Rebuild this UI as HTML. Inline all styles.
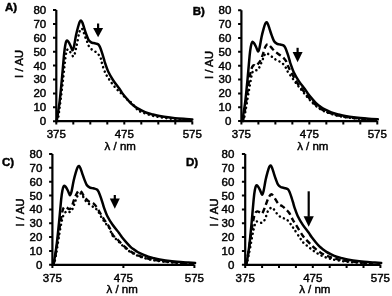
<!DOCTYPE html><html><head><meta charset="utf-8"><style>html,body{margin:0;padding:0;background:#fff;}svg{display:block;}text{font-family:'Liberation Sans', Arial, sans-serif;fill:#000;stroke:#000;stroke-width:0.45px;}</style></head><body>
<svg width="392" height="296" viewBox="0 0 392 296">
<rect width="392" height="296" fill="#fff"/>
<g><path d="M57.80 121.00 C58.05 119.17 58.77 114.00 59.30 110.00 C59.83 106.00 60.42 101.67 61.00 97.00 C61.58 92.33 62.22 87.17 62.80 82.00 C63.38 76.83 64.00 70.50 64.50 66.00 C65.00 61.50 65.35 57.70 65.80 55.00 C66.25 52.30 66.67 50.65 67.20 49.80 C67.73 48.95 68.37 49.32 69.00 49.90 C69.63 50.48 70.28 52.20 71.00 53.30 C71.72 54.40 72.68 56.38 73.30 56.50 C73.92 56.62 74.25 55.33 74.70 54.00 C75.15 52.67 75.55 50.50 76.00 48.50 C76.45 46.50 76.92 44.42 77.40 42.00 C77.88 39.58 78.42 36.08 78.90 34.00 C79.38 31.92 79.85 30.40 80.30 29.50 C80.75 28.60 81.15 28.43 81.60 28.60 C82.05 28.77 82.37 29.03 83.00 30.50 C83.63 31.97 84.70 35.52 85.40 37.40 C86.10 39.28 86.68 40.45 87.20 41.80 C87.72 43.15 87.83 44.30 88.50 45.50 C89.17 46.70 90.18 48.07 91.20 49.00 C92.22 49.93 93.58 50.38 94.60 51.10 C95.62 51.82 96.48 52.52 97.30 53.30 C98.12 54.08 98.88 54.85 99.50 55.80 C100.12 56.75 100.53 57.55 101.00 59.00 C101.47 60.45 101.62 62.27 102.30 64.50 C102.98 66.73 103.95 69.90 105.10 72.40 C106.25 74.90 107.50 76.97 109.20 79.50 C110.90 82.03 113.27 85.23 115.30 87.60 C117.33 89.97 119.55 91.83 121.40 93.70 C123.25 95.57 124.72 97.28 126.40 98.80 C128.08 100.32 129.58 100.90 131.50 102.80 C133.42 104.70 136.15 108.62 137.90 110.18 C139.65 111.74 139.94 111.36 141.98 112.18 C144.02 112.99 147.42 114.27 150.14 115.07 C152.86 115.86 155.58 116.44 158.30 116.96 C161.02 117.47 163.74 117.79 166.46 118.15 C169.18 118.51 171.90 118.85 174.62 119.11 C177.34 119.37 180.06 119.52 182.78 119.71 C185.50 119.89 189.58 120.15 190.94 120.24" fill="none" stroke="#000" stroke-width="2.5" stroke-dasharray="0.1 4.4" stroke-linecap="round"/><path d="M56.50 121.20 C56.61 120.74 56.86 119.90 57.12 118.42 C57.38 116.94 57.64 115.22 58.07 112.30 C58.50 109.39 59.04 106.65 59.70 100.91 C60.36 95.16 61.30 85.48 62.01 77.83 C62.73 70.19 63.45 60.43 63.98 55.04 C64.52 49.64 64.78 47.81 65.21 45.44 C65.64 43.08 66.07 41.51 66.57 40.86 C67.07 40.21 67.54 40.74 68.20 41.55 C68.86 42.36 69.80 44.26 70.51 45.72 C71.23 47.18 71.91 50.19 72.48 50.31 C73.06 50.43 73.39 48.92 73.98 46.42 C74.57 43.92 75.35 38.50 76.02 35.30 C76.69 32.10 77.37 29.48 77.99 27.24 C78.62 24.99 79.23 22.93 79.76 21.81 C80.29 20.70 80.73 20.40 81.19 20.56 C81.64 20.73 81.98 21.54 82.48 22.79 C82.98 24.04 83.56 26.17 84.18 28.07 C84.80 29.97 85.49 32.22 86.22 34.19 C86.95 36.16 87.70 38.52 88.53 39.89 C89.36 41.25 90.32 41.85 91.18 42.39 C92.05 42.92 92.88 42.87 93.70 43.08 C94.52 43.29 95.26 43.36 96.08 43.64 C96.90 43.92 97.92 44.10 98.60 44.75 C99.28 45.40 99.57 46.14 100.16 47.53 C100.75 48.92 101.50 51.14 102.13 53.09 C102.77 55.04 103.47 57.51 103.97 59.21 C104.47 60.90 104.42 61.20 105.12 63.24 C105.83 65.28 106.82 68.57 108.18 71.44 C109.54 74.31 111.44 77.62 113.28 80.47 C115.13 83.32 117.77 86.43 119.27 88.53 C120.76 90.64 121.04 91.45 122.26 93.12 C123.48 94.79 125.25 96.92 126.61 98.54 C127.97 100.16 129.32 101.74 130.42 102.85 C131.52 103.96 132.07 104.33 133.21 105.22 C134.34 106.10 135.76 107.23 137.22 108.13 C138.68 109.04 140.28 109.83 141.98 110.64 C143.68 111.45 145.58 112.35 147.42 113.00 C149.26 113.65 151.18 114.06 153.00 114.53 C154.81 114.99 156.46 115.41 158.30 115.78 C160.14 116.15 161.22 116.36 164.01 116.75 C166.80 117.15 171.37 117.77 175.03 118.14 C178.69 118.51 183.10 118.77 185.98 118.98 C188.85 119.18 191.25 119.32 192.30 119.39" fill="none" stroke="#000" stroke-width="2.5" stroke-linejoin="round" stroke-linecap="round"/><path d="M56.30 10.00 V121.20 H192.30" fill="none" stroke="#000" stroke-width="2.2"/><path d="M53.00 121.20 H56.30 M53.00 107.30 H56.30 M53.00 93.40 H56.30 M53.00 79.50 H56.30 M53.00 65.60 H56.30 M53.00 51.70 H56.30 M53.00 37.80 H56.30 M53.00 23.90 H56.30 M53.00 10.00 H56.30 M56.30 121.20 V124.50 M73.30 121.20 V124.50 M90.30 121.20 V124.50 M107.30 121.20 V124.50 M124.30 121.20 V124.50 M141.30 121.20 V124.50 M158.30 121.20 V124.50 M175.30 121.20 V124.50 M192.30 121.20 V124.50" fill="none" stroke="#000" stroke-width="2"/><text x="46.20" y="125.15" font-size="11.5" text-anchor="end">0</text><text x="46.20" y="111.25" font-size="11.5" text-anchor="end">10</text><text x="46.20" y="97.35" font-size="11.5" text-anchor="end">20</text><text x="46.20" y="83.45" font-size="11.5" text-anchor="end">30</text><text x="46.20" y="69.55" font-size="11.5" text-anchor="end">40</text><text x="46.20" y="55.65" font-size="11.5" text-anchor="end">50</text><text x="46.20" y="41.75" font-size="11.5" text-anchor="end">60</text><text x="46.20" y="27.85" font-size="11.5" text-anchor="end">70</text><text x="46.20" y="13.95" font-size="11.5" text-anchor="end">80</text><text x="56.30" y="138.10" font-size="11.5" text-anchor="middle">375</text><text x="124.30" y="138.10" font-size="11.5" text-anchor="middle">475</text><text x="192.30" y="138.10" font-size="11.5" text-anchor="middle">575</text><text transform="translate(23.20 63.90) rotate(-90)" font-size="11.5" text-anchor="middle">I / AU</text><text x="120.25" y="149.50" font-size="11.5" text-anchor="middle">λ / nm</text><text x="5.00" y="10.70" font-size="11.5" font-weight="bold">A)</text><path d="M98.10 23.50 V28.40" stroke="#000" stroke-width="2.2"/><path d="M93.10 27.90 L103.10 27.90 L98.10 37.30 Z" fill="#000"/></g>
<g><path d="M243.00 121.00 C243.33 119.17 244.28 114.67 245.00 110.00 C245.72 105.33 246.55 98.33 247.30 93.00 C248.05 87.67 248.88 81.75 249.50 78.00 C250.12 74.25 250.52 72.40 251.00 70.50 C251.48 68.60 251.90 67.48 252.40 66.60 C252.90 65.72 253.40 65.30 254.00 65.20 C254.60 65.10 255.28 66.28 256.00 66.00 C256.72 65.72 257.55 64.42 258.30 63.50 C259.05 62.58 259.80 61.83 260.50 60.50 C261.20 59.17 261.93 57.08 262.50 55.50 C263.07 53.92 263.40 52.50 263.90 51.00 C264.40 49.50 264.90 47.63 265.50 46.50 C266.10 45.37 266.83 44.37 267.50 44.20 C268.17 44.03 268.68 44.73 269.50 45.50 C270.32 46.27 271.45 47.78 272.40 48.80 C273.35 49.82 274.10 50.67 275.20 51.60 C276.30 52.53 277.92 53.63 279.00 54.40 C280.08 55.17 280.78 55.43 281.70 56.20 C282.62 56.97 283.72 58.07 284.50 59.00 C285.28 59.93 285.78 60.55 286.40 61.80 C287.02 63.05 287.43 64.80 288.20 66.50 C288.97 68.20 289.40 69.12 291.00 72.00 C292.60 74.88 295.99 80.95 297.80 83.77 C299.61 86.60 300.52 87.21 301.88 88.94 C303.23 90.68 304.59 92.48 305.95 94.18 C307.31 95.87 308.67 97.57 310.03 99.12 C311.39 100.66 312.75 102.15 314.11 103.45 C315.47 104.75 316.82 105.89 318.18 106.92 C319.54 107.95 320.90 108.84 322.26 109.61 C323.62 110.38 324.30 110.73 326.34 111.54 C328.38 112.36 331.77 113.70 334.49 114.50 C337.21 115.31 339.93 115.85 342.65 116.36 C345.36 116.88 348.08 117.23 350.80 117.59 C353.52 117.95 356.24 118.26 358.95 118.52 C361.67 118.77 364.39 118.94 367.11 119.13 C369.83 119.31 373.90 119.56 375.26 119.65" fill="none" stroke="#000" stroke-width="2.4" stroke-dasharray="5.5 3.3" stroke-linecap="butt"/><path d="M243.50 121.00 C243.92 118.83 245.17 112.67 246.00 108.00 C246.83 103.33 247.70 97.67 248.50 93.00 C249.30 88.33 250.15 83.42 250.80 80.00 C251.45 76.58 251.70 74.08 252.40 72.50 C253.10 70.92 254.10 70.95 255.00 70.50 C255.90 70.05 256.97 70.55 257.80 69.80 C258.63 69.05 259.22 67.63 260.00 66.00 C260.78 64.37 261.75 61.83 262.50 60.00 C263.25 58.17 263.83 56.13 264.50 55.00 C265.17 53.87 265.82 53.33 266.50 53.20 C267.18 53.07 267.68 53.60 268.60 54.20 C269.52 54.80 270.90 55.95 272.00 56.80 C273.10 57.65 274.03 58.57 275.20 59.30 C276.37 60.03 277.92 60.62 279.00 61.20 C280.08 61.78 280.78 62.08 281.70 62.80 C282.62 63.52 283.72 64.50 284.50 65.50 C285.28 66.50 285.78 67.67 286.40 68.80 C287.02 69.93 286.30 69.53 288.20 72.30 C290.10 75.07 295.52 82.41 297.80 85.43 C300.08 88.44 300.52 88.73 301.88 90.40 C303.23 92.06 304.59 93.80 305.95 95.43 C307.31 97.06 308.67 98.69 310.03 100.18 C311.39 101.66 312.75 103.09 314.11 104.35 C315.47 105.60 316.82 106.69 318.18 107.68 C319.54 108.67 320.90 109.52 322.26 110.26 C323.62 111.00 324.30 111.34 326.34 112.12 C328.38 112.91 331.77 114.20 334.49 114.97 C337.21 115.74 339.93 116.26 342.65 116.76 C345.36 117.25 348.08 117.59 350.80 117.93 C353.52 118.28 356.24 118.58 358.95 118.83 C361.67 119.07 364.39 119.23 367.11 119.41 C369.83 119.60 373.90 119.83 375.26 119.92" fill="none" stroke="#000" stroke-width="2.5" stroke-dasharray="0.1 4.4" stroke-linecap="round"/><path d="M242.10 121.10 C242.21 120.64 242.45 119.83 242.72 118.37 C242.98 116.91 243.24 115.23 243.67 112.36 C244.10 109.49 244.64 106.81 245.30 101.16 C245.95 95.52 246.89 86.01 247.61 78.50 C248.32 70.99 249.05 61.41 249.58 56.10 C250.11 50.80 250.37 49.00 250.80 46.68 C251.23 44.36 251.66 42.81 252.16 42.18 C252.66 41.54 253.13 42.06 253.79 42.86 C254.45 43.66 255.39 45.52 256.10 46.96 C256.82 48.39 257.49 51.35 258.07 51.46 C258.65 51.58 258.98 50.10 259.57 47.64 C260.16 45.18 260.94 39.86 261.61 36.71 C262.27 33.57 262.95 31.00 263.58 28.80 C264.20 26.59 264.81 24.56 265.34 23.47 C265.88 22.38 266.32 22.08 266.77 22.24 C267.22 22.40 267.56 23.20 268.06 24.43 C268.56 25.65 269.14 27.75 269.76 29.61 C270.38 31.48 271.07 33.69 271.80 35.62 C272.52 37.56 273.28 39.88 274.11 41.22 C274.94 42.56 275.90 43.16 276.76 43.68 C277.62 44.20 278.46 44.16 279.27 44.36 C280.09 44.57 280.84 44.63 281.65 44.91 C282.47 45.18 283.49 45.36 284.16 46.00 C284.84 46.64 285.14 47.37 285.73 48.73 C286.32 50.10 287.06 52.28 287.70 54.19 C288.33 56.10 289.03 58.54 289.53 60.20 C290.03 61.86 289.99 62.16 290.69 64.16 C291.39 66.16 292.39 69.39 293.75 72.22 C295.10 75.04 297.00 78.29 298.84 81.09 C300.69 83.89 303.33 86.94 304.82 89.01 C306.32 91.08 306.59 91.88 307.81 93.52 C309.03 95.16 310.80 97.25 312.16 98.84 C313.52 100.44 314.87 101.98 315.97 103.08 C317.06 104.17 317.62 104.53 318.75 105.40 C319.88 106.26 321.30 107.38 322.76 108.26 C324.22 109.15 325.82 109.93 327.52 110.72 C329.22 111.52 331.12 112.41 332.95 113.04 C334.79 113.68 336.71 114.09 338.52 114.55 C340.34 115.00 341.99 115.41 343.82 115.77 C345.66 116.14 346.75 116.34 349.53 116.73 C352.32 117.12 356.88 117.73 360.54 118.10 C364.20 118.46 368.60 118.71 371.48 118.92 C374.36 119.12 376.75 119.26 377.80 119.32" fill="none" stroke="#000" stroke-width="2.5" stroke-linejoin="round" stroke-linecap="round"/><path d="M241.40 10.20 V121.10 H377.30" fill="none" stroke="#000" stroke-width="2.2"/><path d="M238.10 121.10 H241.40 M238.10 107.24 H241.40 M238.10 93.38 H241.40 M238.10 79.51 H241.40 M238.10 65.65 H241.40 M238.10 51.79 H241.40 M238.10 37.93 H241.40 M238.10 24.06 H241.40 M238.10 10.20 H241.40 M241.40 121.10 V124.40 M258.39 121.10 V124.40 M275.38 121.10 V124.40 M292.36 121.10 V124.40 M309.35 121.10 V124.40 M326.34 121.10 V124.40 M343.32 121.10 V124.40 M360.31 121.10 V124.40 M377.30 121.10 V124.40" fill="none" stroke="#000" stroke-width="2"/><text x="231.30" y="125.05" font-size="11.5" text-anchor="end">0</text><text x="231.30" y="111.19" font-size="11.5" text-anchor="end">10</text><text x="231.30" y="97.33" font-size="11.5" text-anchor="end">20</text><text x="231.30" y="83.46" font-size="11.5" text-anchor="end">30</text><text x="231.30" y="69.60" font-size="11.5" text-anchor="end">40</text><text x="231.30" y="55.74" font-size="11.5" text-anchor="end">50</text><text x="231.30" y="41.88" font-size="11.5" text-anchor="end">60</text><text x="231.30" y="28.01" font-size="11.5" text-anchor="end">70</text><text x="231.30" y="14.15" font-size="11.5" text-anchor="end">80</text><text x="241.40" y="138.00" font-size="11.5" text-anchor="middle">375</text><text x="309.35" y="138.00" font-size="11.5" text-anchor="middle">475</text><text x="377.30" y="138.00" font-size="11.5" text-anchor="middle">575</text><text transform="translate(213.00 65.00) rotate(-90)" font-size="11.5" text-anchor="middle">I / AU</text><text x="312.80" y="149.50" font-size="11.5" text-anchor="middle">λ / nm</text><text x="192.80" y="15.20" font-size="11.5" font-weight="bold">B)</text><path d="M297.60 47.80 V52.50" stroke="#000" stroke-width="2.2"/><path d="M292.60 52.00 L302.60 52.00 L297.60 62.20 Z" fill="#000"/></g>
<g><path d="M53.50 264.80 C53.83 263.17 54.75 259.47 55.50 255.00 C56.25 250.53 57.17 243.50 58.00 238.00 C58.83 232.50 59.75 226.50 60.50 222.00 C61.25 217.50 61.88 213.50 62.50 211.00 C63.12 208.50 63.53 207.58 64.20 207.00 C64.87 206.42 65.70 207.17 66.50 207.50 C67.30 207.83 68.32 208.83 69.00 209.00 C69.68 209.17 70.02 209.25 70.60 208.50 C71.18 207.75 71.93 205.92 72.50 204.50 C73.07 203.08 73.33 201.75 74.00 200.00 C74.67 198.25 75.67 195.58 76.50 194.00 C77.33 192.42 78.17 190.83 79.00 190.50 C79.83 190.17 80.75 191.17 81.50 192.00 C82.25 192.83 82.78 194.40 83.50 195.50 C84.22 196.60 84.88 197.60 85.80 198.60 C86.72 199.60 87.88 200.80 89.00 201.50 C90.12 202.20 91.50 202.22 92.50 202.80 C93.50 203.38 94.15 204.02 95.00 205.00 C95.85 205.98 96.60 207.12 97.60 208.70 C98.60 210.28 99.77 212.45 101.00 214.50 C102.23 216.55 103.63 218.92 105.00 221.00 C106.37 223.08 107.91 224.70 109.20 227.00 C110.49 229.30 111.45 232.80 112.75 234.79 C114.05 236.78 115.59 237.50 117.01 238.95 C118.43 240.41 119.85 242.13 121.27 243.54 C122.69 244.94 124.11 246.16 125.53 247.39 C126.95 248.61 128.37 249.90 129.79 250.91 C131.21 251.91 132.63 252.65 134.05 253.41 C135.47 254.16 136.89 254.84 138.31 255.45 C139.73 256.05 140.44 256.38 142.57 257.02 C144.70 257.67 148.25 258.67 151.09 259.30 C153.93 259.92 156.77 260.38 159.61 260.78 C162.45 261.19 165.29 261.44 168.13 261.73 C170.97 262.02 173.81 262.29 176.65 262.50 C179.49 262.71 182.33 262.82 185.17 262.97 C188.01 263.12 192.27 263.33 193.69 263.40" fill="none" stroke="#000" stroke-width="2.4" stroke-dasharray="5.5 3.3" stroke-linecap="butt"/><path d="M54.00 264.80 C54.42 262.67 55.67 256.80 56.50 252.00 C57.33 247.20 58.08 241.33 59.00 236.00 C59.92 230.67 61.08 223.75 62.00 220.00 C62.92 216.25 63.63 214.97 64.50 213.50 C65.37 212.03 66.28 211.45 67.20 211.20 C68.12 210.95 69.12 212.37 70.00 212.00 C70.88 211.63 71.67 210.67 72.50 209.00 C73.33 207.33 74.17 204.17 75.00 202.00 C75.83 199.83 76.55 197.42 77.50 196.00 C78.45 194.58 79.78 193.42 80.70 193.50 C81.62 193.58 82.15 195.25 83.00 196.50 C83.85 197.75 84.50 199.53 85.80 201.00 C87.10 202.47 89.27 204.13 90.80 205.30 C92.33 206.47 93.80 207.05 95.00 208.00 C96.20 208.95 97.00 209.58 98.00 211.00 C99.00 212.42 99.83 214.58 101.00 216.50 C102.17 218.42 103.63 220.58 105.00 222.50 C106.37 224.42 107.91 225.77 109.20 228.00 C110.49 230.23 111.45 233.89 112.75 235.88 C114.05 237.87 115.59 238.51 117.01 239.93 C118.43 241.35 119.85 243.03 121.27 244.40 C122.69 245.77 124.11 246.95 125.53 248.14 C126.95 249.34 128.37 250.59 129.79 251.57 C131.21 252.55 132.63 253.27 134.05 254.01 C135.47 254.74 136.89 255.41 138.31 255.99 C139.73 256.58 140.44 256.90 142.57 257.53 C144.70 258.15 148.25 259.13 151.09 259.74 C153.93 260.35 156.77 260.79 159.61 261.19 C162.45 261.58 165.29 261.83 168.13 262.11 C170.97 262.39 173.81 262.66 176.65 262.86 C179.49 263.06 182.33 263.17 185.17 263.32 C188.01 263.46 192.27 263.67 193.69 263.73" fill="none" stroke="#000" stroke-width="2.5" stroke-dasharray="0.1 4.4" stroke-linecap="round"/><path d="M53.31 264.80 C53.42 264.35 53.68 263.53 53.95 262.07 C54.22 260.62 54.50 258.93 54.95 256.07 C55.40 253.20 55.96 250.52 56.65 244.88 C57.34 239.24 58.32 229.74 59.06 222.24 C59.81 214.73 60.57 205.16 61.12 199.86 C61.68 194.57 61.95 192.77 62.40 190.45 C62.85 188.13 63.30 186.58 63.82 185.95 C64.34 185.31 64.84 185.83 65.53 186.63 C66.21 187.43 67.19 189.29 67.94 190.72 C68.68 192.16 69.39 195.11 70.00 195.22 C70.60 195.34 70.94 193.86 71.56 191.40 C72.18 188.95 72.99 183.63 73.69 180.49 C74.39 177.35 75.10 174.78 75.75 172.58 C76.40 170.37 77.04 168.35 77.59 167.26 C78.15 166.17 78.61 165.87 79.09 166.03 C79.56 166.19 79.91 166.99 80.44 168.21 C80.96 169.44 81.56 171.53 82.21 173.40 C82.86 175.26 83.58 177.47 84.34 179.40 C85.10 181.33 85.89 183.65 86.75 184.99 C87.62 186.33 88.62 186.93 89.52 187.45 C90.42 187.97 91.30 187.93 92.15 188.13 C93.00 188.34 93.78 188.40 94.64 188.68 C95.49 188.95 96.55 189.13 97.26 189.77 C97.97 190.40 98.28 191.13 98.89 192.50 C99.51 193.86 100.29 196.04 100.95 197.95 C101.62 199.86 102.35 202.30 102.87 203.96 C103.39 205.62 103.34 205.91 104.08 207.91 C104.81 209.91 105.85 213.14 107.27 215.96 C108.69 218.78 110.67 222.03 112.60 224.83 C114.53 227.62 117.28 230.67 118.85 232.74 C120.41 234.81 120.69 235.61 121.97 237.24 C123.25 238.88 125.09 240.97 126.51 242.56 C127.93 244.15 129.34 245.70 130.49 246.79 C131.64 247.88 132.22 248.25 133.40 249.11 C134.58 249.98 136.06 251.09 137.59 251.98 C139.12 252.86 140.78 253.64 142.56 254.43 C144.33 255.23 146.32 256.11 148.24 256.75 C150.16 257.39 152.17 257.80 154.06 258.25 C155.96 258.71 157.68 259.12 159.60 259.48 C161.52 259.84 162.65 260.05 165.56 260.43 C168.47 260.82 173.24 261.43 177.07 261.80 C180.89 262.16 185.49 262.41 188.50 262.62 C191.50 262.82 194.00 262.96 195.10 263.03" fill="none" stroke="#000" stroke-width="2.5" stroke-linejoin="round" stroke-linecap="round"/><path d="M52.40 154.00 V264.80 H194.40" fill="none" stroke="#000" stroke-width="2.2"/><path d="M49.10 264.80 H52.40 M49.10 250.95 H52.40 M49.10 237.10 H52.40 M49.10 223.25 H52.40 M49.10 209.40 H52.40 M49.10 195.55 H52.40 M49.10 181.70 H52.40 M49.10 167.85 H52.40 M49.10 154.00 H52.40 M52.40 264.80 V268.10 M123.40 264.80 V268.10 M194.40 264.80 V268.10" fill="none" stroke="#000" stroke-width="2"/><text x="42.30" y="268.75" font-size="11.5" text-anchor="end">0</text><text x="42.30" y="254.90" font-size="11.5" text-anchor="end">10</text><text x="42.30" y="241.05" font-size="11.5" text-anchor="end">20</text><text x="42.30" y="227.20" font-size="11.5" text-anchor="end">30</text><text x="42.30" y="213.35" font-size="11.5" text-anchor="end">40</text><text x="42.30" y="199.50" font-size="11.5" text-anchor="end">50</text><text x="42.30" y="185.65" font-size="11.5" text-anchor="end">60</text><text x="42.30" y="171.80" font-size="11.5" text-anchor="end">70</text><text x="42.30" y="157.95" font-size="11.5" text-anchor="end">80</text><text x="52.40" y="281.70" font-size="11.5" text-anchor="middle">375</text><text x="123.40" y="281.70" font-size="11.5" text-anchor="middle">475</text><text x="194.40" y="281.70" font-size="11.5" text-anchor="middle">575</text><text transform="translate(24.30 212.40) rotate(-90)" font-size="11.5" text-anchor="middle">I / AU</text><text x="122.20" y="293.30" font-size="11.5" text-anchor="middle">λ / nm</text><text x="1.90" y="165.70" font-size="11.5" font-weight="bold">C)</text><path d="M114.80 195.00 V199.10" stroke="#000" stroke-width="2.2"/><path d="M109.80 198.60 L119.80 198.60 L114.80 208.80 Z" fill="#000"/></g>
<g><path d="M246.00 264.80 C246.33 263.17 247.25 259.47 248.00 255.00 C248.75 250.53 249.67 243.50 250.50 238.00 C251.33 232.50 252.25 226.08 253.00 222.00 C253.75 217.92 254.30 215.27 255.00 213.50 C255.70 211.73 256.33 211.57 257.20 211.40 C258.07 211.23 259.37 212.15 260.20 212.50 C261.03 212.85 261.40 214.42 262.20 213.50 C263.00 212.58 264.03 209.42 265.00 207.00 C265.97 204.58 266.93 201.13 268.00 199.00 C269.07 196.87 270.17 194.15 271.40 194.20 C272.63 194.25 274.22 197.67 275.40 199.30 C276.58 200.93 277.32 202.82 278.50 204.00 C279.68 205.18 281.25 205.48 282.50 206.40 C283.75 207.32 284.82 208.32 286.00 209.50 C287.18 210.68 288.50 211.83 289.60 213.50 C290.70 215.17 291.58 217.67 292.60 219.50 C293.62 221.33 294.00 221.80 295.70 224.50 C297.40 227.20 300.74 232.84 302.80 235.70 C304.86 238.56 306.51 239.97 308.07 241.66 C309.62 243.36 310.77 244.58 312.12 245.87 C313.48 247.17 314.83 248.33 316.18 249.43 C317.53 250.53 318.88 251.58 320.24 252.46 C321.59 253.35 322.94 254.05 324.29 254.72 C325.64 255.38 327.00 255.93 328.35 256.45 C329.70 256.98 330.38 257.29 332.40 257.86 C334.43 258.42 337.81 259.30 340.52 259.85 C343.22 260.40 345.92 260.80 348.63 261.16 C351.33 261.52 354.04 261.76 356.74 262.02 C359.44 262.27 362.15 262.51 364.85 262.70 C367.56 262.88 371.61 263.07 372.96 263.14" fill="none" stroke="#000" stroke-width="2.4" stroke-dasharray="5.5 3.3" stroke-linecap="butt"/><path d="M246.50 264.80 C246.83 263.33 247.75 259.63 248.50 256.00 C249.25 252.37 250.17 247.33 251.00 243.00 C251.83 238.67 252.65 233.53 253.50 230.00 C254.35 226.47 255.10 223.03 256.10 221.80 C257.10 220.57 258.37 222.50 259.50 222.60 C260.63 222.70 261.92 223.12 262.90 222.40 C263.88 221.68 264.72 219.83 265.40 218.30 C266.08 216.77 266.40 214.68 267.00 213.20 C267.60 211.72 268.25 210.30 269.00 209.40 C269.75 208.50 270.78 207.93 271.50 207.80 C272.22 207.67 272.62 207.95 273.30 208.60 C273.98 209.25 274.77 210.60 275.60 211.70 C276.43 212.80 277.20 214.17 278.30 215.20 C279.40 216.23 280.92 217.27 282.20 217.90 C283.48 218.53 284.82 218.27 286.00 219.00 C287.18 219.73 288.33 221.17 289.30 222.30 C290.27 223.43 290.97 224.62 291.80 225.80 C292.63 226.98 292.90 227.32 294.30 229.40 C295.70 231.48 298.58 235.98 300.20 238.30 C301.82 240.62 302.70 241.97 304.01 243.33 C305.32 244.70 306.72 245.40 308.07 246.48 C309.42 247.56 310.77 248.79 312.12 249.82 C313.48 250.84 314.83 251.76 316.18 252.63 C317.53 253.50 318.88 254.34 320.24 255.03 C321.59 255.73 322.94 256.29 324.29 256.82 C325.64 257.34 327.00 257.78 328.35 258.19 C329.70 258.61 330.38 258.85 332.40 259.30 C334.43 259.75 337.81 260.45 340.52 260.88 C343.22 261.32 345.92 261.63 348.63 261.92 C351.33 262.20 354.04 262.39 356.74 262.60 C359.44 262.80 362.15 262.99 364.85 263.13 C367.56 263.28 371.61 263.43 372.96 263.49" fill="none" stroke="#000" stroke-width="2.5" stroke-dasharray="0.1 4.4" stroke-linecap="round"/><path d="M246.20 264.80 C246.30 264.34 246.55 263.52 246.81 262.06 C247.07 260.60 247.33 258.90 247.76 256.02 C248.19 253.15 248.73 250.45 249.38 244.78 C250.03 239.11 250.97 229.56 251.68 222.02 C252.39 214.48 253.11 204.86 253.64 199.53 C254.17 194.21 254.43 192.40 254.86 190.07 C255.28 187.74 255.71 186.19 256.21 185.55 C256.70 184.91 257.18 185.43 257.83 186.23 C258.48 187.03 259.42 188.91 260.13 190.35 C260.84 191.79 261.51 194.76 262.09 194.87 C262.66 194.99 262.99 193.50 263.58 191.03 C264.16 188.56 264.94 183.22 265.60 180.06 C266.27 176.91 266.94 174.33 267.56 172.11 C268.18 169.89 268.79 167.86 269.32 166.76 C269.85 165.67 270.29 165.37 270.74 165.53 C271.19 165.69 271.53 166.49 272.03 167.72 C272.52 168.96 273.10 171.06 273.72 172.93 C274.34 174.81 275.02 177.02 275.74 178.97 C276.47 180.91 277.22 183.24 278.04 184.59 C278.86 185.94 279.82 186.53 280.68 187.06 C281.54 187.58 282.37 187.54 283.18 187.74 C283.99 187.95 284.73 188.02 285.55 188.29 C286.36 188.56 287.37 188.75 288.05 189.39 C288.72 190.03 289.02 190.76 289.60 192.13 C290.19 193.50 290.93 195.69 291.56 197.61 C292.19 199.53 292.89 201.98 293.39 203.65 C293.88 205.31 293.84 205.61 294.54 207.62 C295.24 209.63 296.23 212.88 297.58 215.71 C298.93 218.55 300.81 221.81 302.65 224.63 C304.49 227.44 307.11 230.50 308.60 232.58 C310.08 234.66 310.36 235.46 311.57 237.10 C312.79 238.75 314.55 240.85 315.90 242.45 C317.25 244.05 318.59 245.60 319.68 246.70 C320.78 247.80 321.33 248.16 322.46 249.03 C323.58 249.90 324.99 251.02 326.44 251.91 C327.90 252.80 329.49 253.58 331.18 254.38 C332.87 255.18 334.76 256.07 336.58 256.71 C338.41 257.35 340.32 257.76 342.13 258.22 C343.93 258.68 345.57 259.09 347.40 259.45 C349.23 259.82 350.31 260.02 353.08 260.41 C355.85 260.80 360.39 261.42 364.03 261.78 C367.67 262.15 372.05 262.40 374.91 262.61 C377.77 262.81 380.15 262.95 381.20 263.02" fill="none" stroke="#000" stroke-width="2.5" stroke-linejoin="round" stroke-linecap="round"/><path d="M245.20 154.00 V264.80 H380.40" fill="none" stroke="#000" stroke-width="2.2"/><path d="M241.90 264.80 H245.20 M241.90 250.95 H245.20 M241.90 237.10 H245.20 M241.90 223.25 H245.20 M241.90 209.40 H245.20 M241.90 195.55 H245.20 M241.90 181.70 H245.20 M241.90 167.85 H245.20 M241.90 154.00 H245.20 M245.20 264.80 V268.10 M262.10 264.80 V268.10 M279.00 264.80 V268.10 M295.90 264.80 V268.10 M312.80 264.80 V268.10 M329.70 264.80 V268.10 M346.60 264.80 V268.10 M363.50 264.80 V268.10 M380.40 264.80 V268.10" fill="none" stroke="#000" stroke-width="2"/><text x="234.40" y="268.75" font-size="11.5" text-anchor="end">0</text><text x="234.40" y="254.90" font-size="11.5" text-anchor="end">10</text><text x="234.40" y="241.05" font-size="11.5" text-anchor="end">20</text><text x="234.40" y="227.20" font-size="11.5" text-anchor="end">30</text><text x="234.40" y="213.35" font-size="11.5" text-anchor="end">40</text><text x="234.40" y="199.50" font-size="11.5" text-anchor="end">50</text><text x="234.40" y="185.65" font-size="11.5" text-anchor="end">60</text><text x="234.40" y="171.80" font-size="11.5" text-anchor="end">70</text><text x="234.40" y="157.95" font-size="11.5" text-anchor="end">80</text><text x="245.20" y="281.70" font-size="11.5" text-anchor="middle">375</text><text x="312.80" y="281.70" font-size="11.5" text-anchor="middle">475</text><text x="380.40" y="281.70" font-size="11.5" text-anchor="middle">575</text><text transform="translate(217.70 212.40) rotate(-90)" font-size="11.5" text-anchor="middle">I / AU</text><text x="314.80" y="293.30" font-size="11.5" text-anchor="middle">λ / nm</text><text x="185.90" y="165.70" font-size="11.5" font-weight="bold">D)</text><path d="M308.70 191.30 V216.80" stroke="#000" stroke-width="2.2"/><path d="M303.60 216.30 L313.80 216.30 L308.70 226.80 Z" fill="#000"/></g>
</svg></body></html>
